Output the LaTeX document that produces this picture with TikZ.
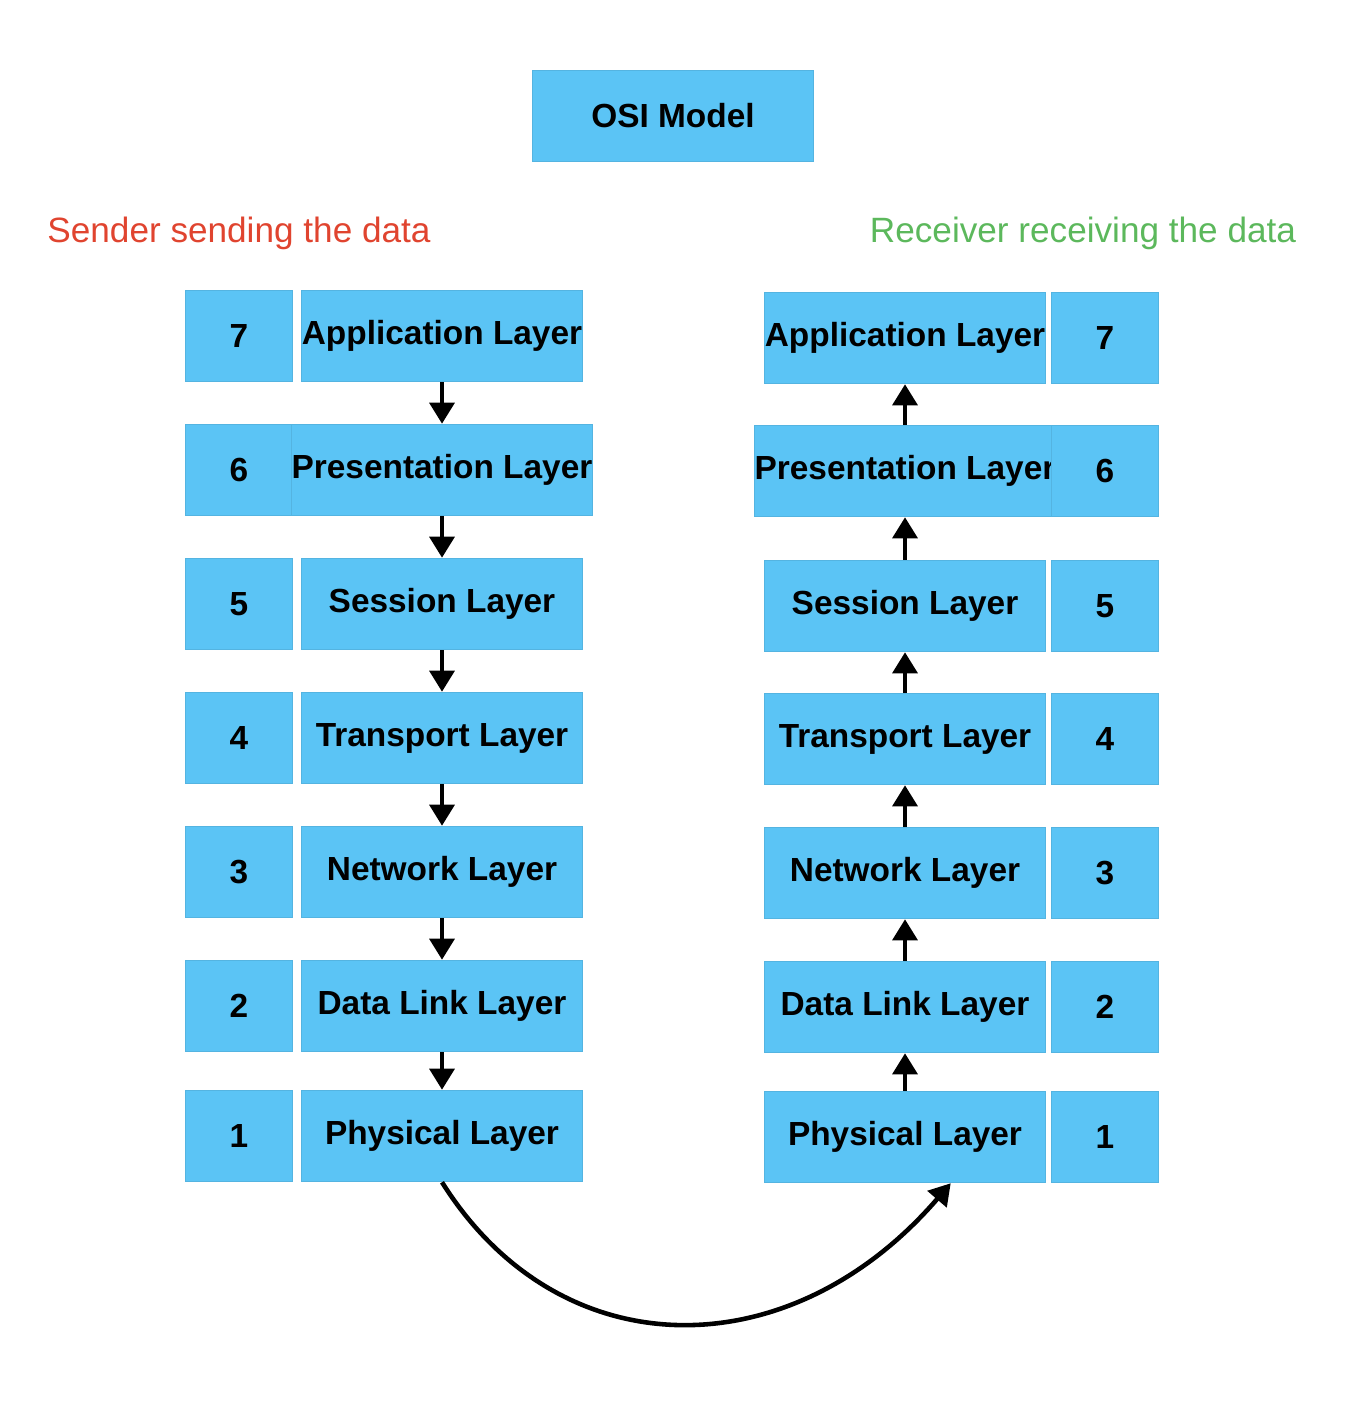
\documentclass[tikz,border=0pt]{standalone}
\usepackage{fontspec}
\setmainfont{Liberation Sans}
\usetikzlibrary{arrows.meta}
\definecolor{boxblue}{HTML}{5BC4F5}
\definecolor{sendred}{HTML}{E0442F}
\definecolor{recvgreen}{HTML}{5CB85C}
\tikzset{
  layer/.style={draw=boxblue!80!black!40!boxblue, fill=boxblue, minimum width=2.81cm, minimum height=0.91cm, inner sep=0pt, font=\fontsize{9.5}{11}\selectfont\bfseries},
  num/.style={layer, minimum width=1.07cm},
  flow/.style={-{Triangle[length=6pt,width=7pt]}, line width=1.3pt}
}
\begin{document}
\begin{tikzpicture}[x=0.01cm, y=-0.01cm]
\useasboundingbox (0,0) rectangle (1358,1416);
\node [layer] (osi) at (673,116) {OSI Model};
\node [text=sendred, font=\fontsize{10}{12}\selectfont] (snd) at (239,233) {Sender sending the data};
\node [text=recvgreen, font=\fontsize{10}{12}\selectfont] (rcv) at (1083,233) {Receiver receiving the data};
% sender stack
\foreach \n/\t/\y in {7/Application Layer/336, 6/Presentation Layer/470, 5/Session Layer/604, 4/Transport Layer/738, 3/Network Layer/872, 2/Data Link Layer/1006, 1/Physical Layer/1136}
{
  \node [num] (sn\n) at (239,\y) {\n};
  \node [layer] (s\n) at (442,\y) {\t};
}
% receiver stack
\foreach \n/\t/\y in {7/Application Layer/338, 6/Presentation Layer/471, 5/Session Layer/606, 4/Transport Layer/739, 3/Network Layer/873, 2/Data Link Layer/1007, 1/Physical Layer/1137}
{
  \node [layer] (r\n) at (905,\y) {\t};
  \node [num] (rn\n) at (1105,\y) {\n};
}
\foreach \a/\b in {7/6, 6/5, 5/4, 4/3, 3/2, 2/1}
{
  \draw [flow] (s\a) -- (s\b);
  \draw [flow] (r\b) -- (r\a);
}
\draw [flow] (s1.south) .. controls (560,1370) and (790,1370) .. ([xshift=13]r1.south);
\end{tikzpicture}
\end{document}
